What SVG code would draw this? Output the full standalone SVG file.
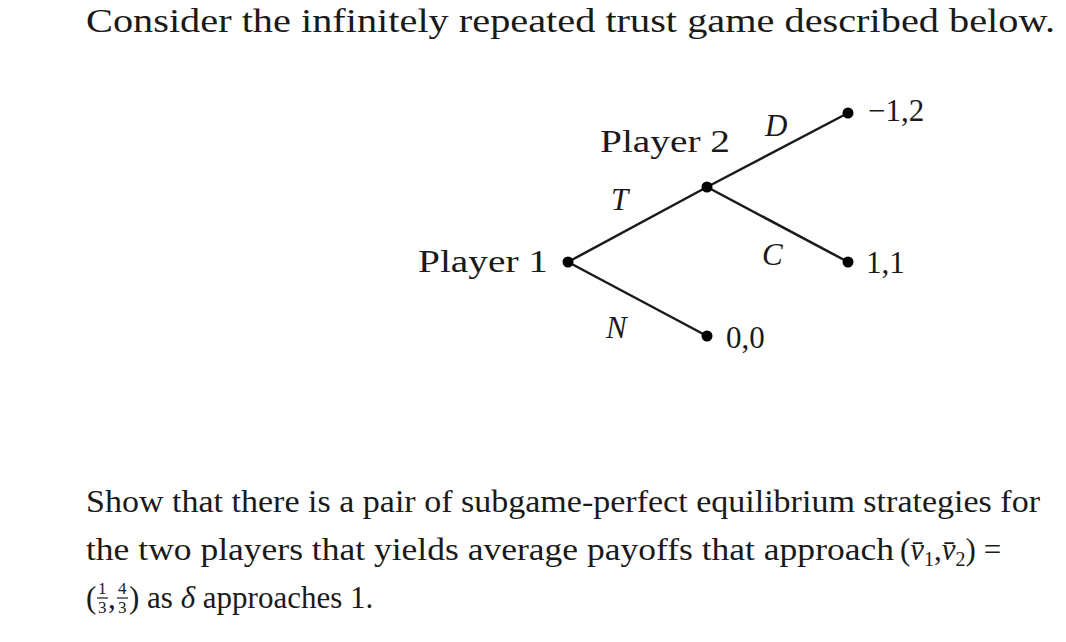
<svg xmlns="http://www.w3.org/2000/svg" width="1066" height="642" viewBox="0 0 1066 642">
<style>
text{font-family:"Liberation Serif","DejaVu Serif",serif;fill:#1a1a1a}
.t{font-size:34px}
.b{font-size:31px}
.l{font-size:31px}
.i{font-style:italic}
line{stroke:#1a1a1a;stroke-width:2.5}
circle{fill:#000}
</style>
<rect width="1066" height="642" fill="#fff"/>
<text class="t" x="86" y="32" textLength="969" lengthAdjust="spacingAndGlyphs">Consider the infinitely repeated trust game described below.</text>
<g id="connectors">
<line x1="568" y1="262" x2="707" y2="187"/>
<line x1="568" y1="262" x2="707" y2="336"/>
<line x1="707" y1="187" x2="848" y2="113"/>
<line x1="707" y1="187" x2="848" y2="262"/>
</g>
<g id="p1"><circle cx="568" cy="262" r="5.5"/><text class="l" x="418" y="272" textLength="130" lengthAdjust="spacingAndGlyphs">Player 1</text></g>
<g id="p2"><circle cx="707" cy="187" r="5.5"/><text class="l" x="600" y="152" textLength="130" lengthAdjust="spacingAndGlyphs">Player 2</text></g>
<g id="leafD"><circle cx="848" cy="113" r="5.5"/><text class="l" x="868" y="121">−1,2</text></g>
<g id="leafC"><circle cx="848" cy="262" r="5.5"/><text class="l" x="866" y="273">1,1</text></g>
<g id="leafN"><circle cx="707" cy="336" r="5.5"/><text class="l" x="726" y="348">0,0</text></g>
<text class="l i" x="611" y="210">T</text>
<text class="l i" x="765" y="136">D</text>
<text class="l i" x="762" y="265">C</text>
<text class="l i" x="606" y="338">N</text>
<text class="b" x="86" y="512" textLength="954" lengthAdjust="spacingAndGlyphs">Show that there is a pair of subgame-perfect equilibrium strategies for</text>
<text class="b" x="86" y="560" textLength="808" lengthAdjust="spacingAndGlyphs">the two players that yields average payoffs that approach</text>
<text class="b" x="900" y="560">(<tspan class="i">v̄</tspan><tspan font-size="20" dy="6">1</tspan><tspan dy="-6">,</tspan><tspan class="i">v̄</tspan><tspan font-size="20" dy="6">2</tspan><tspan dy="-6">) =</tspan></text>
<text class="b" x="86" y="608">(</text>
<text font-size="17" x="98" y="594">1</text>
<line x1="97" y1="598" x2="108" y2="598" style="stroke-width:1.2"/>
<text font-size="17" x="98" y="613">3</text>
<text class="b" x="108" y="608">,</text>
<text font-size="17" x="118" y="594">4</text>
<line x1="117" y1="598" x2="128" y2="598" style="stroke-width:1.2"/>
<text font-size="17" x="118" y="613">3</text>
<text class="b" x="129" y="608">) as <tspan class="i">δ</tspan> approaches 1.</text>
</svg>
